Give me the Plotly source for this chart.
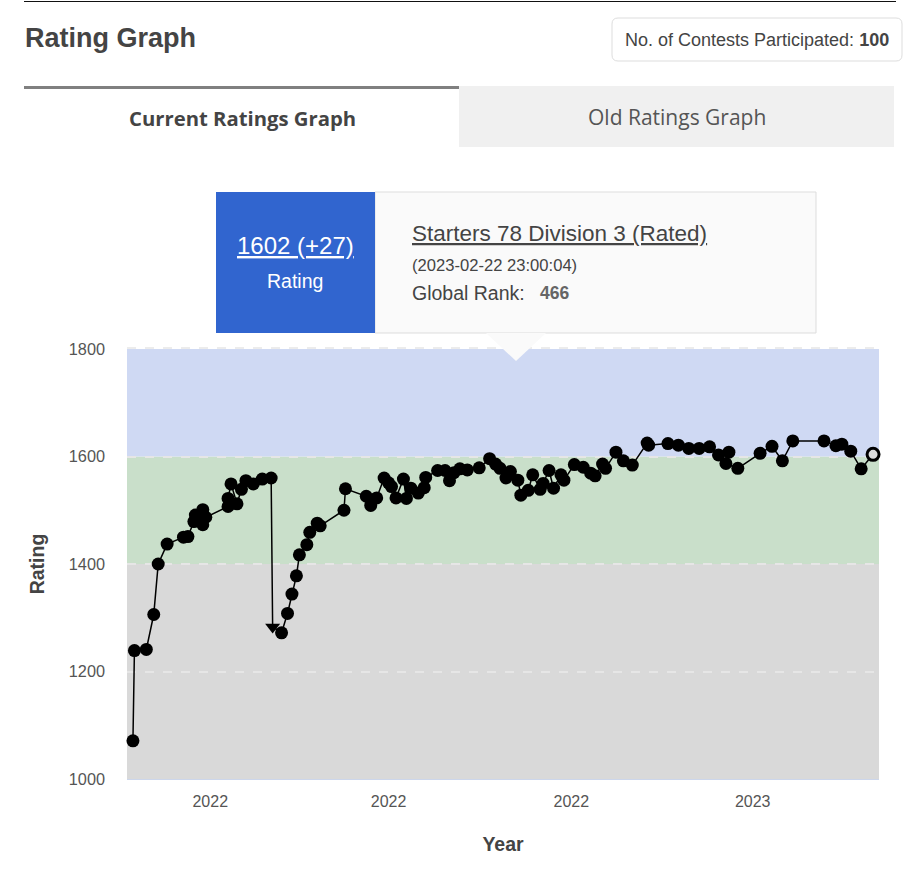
import pandas as pd
import plotly.graph_objects as pgo

W, H = 921, 879

# days since 2022-01-01 for each contest
day_offset = [-52, -51, -43, -38, -35, -29, -18, -15, -11, -10, -9, -7, -5, -5, -3,
              12, 12, 14, 18, 21, 24, 29, 35, 41, 42, 48, 52, 55, 58, 60,
              65, 67, 72, 74, 90, 91, 105, 108, 112, 117, 120, 122, 125, 130, 132,
              135, 140, 144, 145, 153, 158, 161, 164, 168, 173, 181, 188, 192, 195, 199,
              202, 207, 209, 214, 217, 222, 224, 228, 231, 236, 238, 245, 251, 256, 259,
              264, 266, 273, 278, 284, 294, 295, 308, 315, 322, 329, 336, 342, 349, 347,
              355, 370, 378, 385, 392, 413, 421, 425, 431, 438, 446]
rating = [1071, 1239, 1241, 1306, 1400, 1437, 1450, 1451, 1479, 1491, 1486, 1486, 1501, 1473, 1487,
          1507, 1522, 1549, 1512, 1539, 1555, 1549, 1558, 1560, 1283, 1272, 1308, 1344, 1378, 1417,
          1436, 1459, 1476, 1471, 1500, 1540, 1526, 1509, 1523, 1560, 1551, 1544, 1523, 1558, 1522,
          1541, 1532, 1542, 1561, 1574, 1574, 1555, 1570, 1577, 1575, 1579, 1596, 1586, 1578, 1560,
          1572, 1556, 1528, 1537, 1566, 1539, 1550, 1574, 1541, 1566, 1556, 1585, 1580, 1569, 1564,
          1586, 1578, 1608, 1592, 1584, 1625, 1621, 1624, 1621, 1615, 1615, 1618, 1603, 1608, 1587,
          1578, 1606, 1619, 1592, 1629, 1629, 1620, 1623, 1610, 1577, 1604]
band_edges = [1000, 1400, 1600, 1800]
band_colors = ["#d9d9d9", "#c9dfca", "#cfd9f3"]
y_ticks = [1000, 1200, 1400, 1600, 1800]

dates = pd.Timestamp("2022-01-01") + pd.to_timedelta(day_offset, unit="D")

# marker styles: the dropped contest is a triangle, the selected one is hollow
symbols = ["circle"] * len(rating)
symbols[24] = "triangle-down"
fills = ["black"] * len(rating)
fills[-1] = "#dddddd"
sizes = [13] * len(rating)
sizes[-1] = 12
outlines = [0] * len(rating)
outlines[-1] = 3


def px(x):
    return x / W


def py(y):
    return 1 - y / H


def box(x0, y0, x1, y1, fill, line=None):
    return dict(type="rect", xref="paper", yref="paper", layer="above",
                x0=px(x0), x1=px(x1), y0=py(y0), y1=py(y1), fillcolor=fill,
                line=dict(color=line or fill, width=1 if line else 0))


def label(x, y, text, size, color="#444444", family="Liberation Sans", xanchor="left"):
    return dict(xref="paper", yref="paper", x=px(x), y=py(y), text=text, showarrow=False,
                xanchor=xanchor, yanchor="middle", borderpad=0,
                font=dict(size=size, color=color, family=family))


fig = pgo.Figure()
fig.add_trace(pgo.Scatter(x=dates, y=rating, mode="lines+markers",
                          line=dict(color="black", width=1.5),
                          marker=dict(symbol=symbols, color=fills, size=sizes, opacity=1,
                                      line=dict(color="black", width=outlines)),
                          cliponaxis=False, hoverinfo="skip"))

shapes = []
for i in range(len(band_colors)):
    shapes.append(dict(type="rect", xref="x domain", yref="y", layer="below", x0=0, x1=1,
                       y0=band_edges[i], y1=band_edges[i + 1], fillcolor=band_colors[i],
                       line=dict(width=0)))

# page furniture around the chart
shapes.append(dict(type="line", xref="paper", yref="paper", layer="above", x0=px(24), x1=px(896),
                   y0=py(1.5), y1=py(1.5), line=dict(color="#111111", width=1)))
# dashed top gridline, plotly drops the one sitting on the range edge
shapes.append(dict(type="line", xref="paper", yref="paper", layer="above", x0=px(127), x1=px(879),
                   y0=py(348), y1=py(348), line=dict(color="#e6e6e6", width=1.5, dash="dash")))
rx0, ry0, rx1, ry1, r = px(612), py(18), px(902), py(61), 6
rr = r / W
rh = r / H
shapes.append(dict(type="path", xref="paper", yref="paper", layer="above",
                   path=f"M {rx0 + rr} {ry0} L {rx1 - rr} {ry0} Q {rx1} {ry0} {rx1} {ry0 - rh} "
                        f"L {rx1} {ry1 + rh} Q {rx1} {ry1} {rx1 - rr} {ry1} L {rx0 + rr} {ry1} "
                        f"Q {rx0} {ry1} {rx0} {ry1 + rh} L {rx0} {ry0 - rh} Q {rx0} {ry0} {rx0 + rr} {ry0} Z",
                   fillcolor="white", line=dict(color="#dddddd", width=1)))
shapes.append(box(459, 86, 894, 147, "#f0f0f0"))
shapes.append(box(24, 86, 459, 89, "#808080"))
shapes.append(box(375, 192, 816, 333, "#fafafa", "#dddddd"))
shapes.append(box(216, 192, 375, 333, "#3165cf"))
shapes.append(dict(type="path", xref="paper", yref="paper", layer="above",
                   path=f"M {px(486)} {py(333)} L {px(516)} {py(361)} L {px(546)} {py(333)} Z",
                   fillcolor="#fafafa", line=dict(width=0)))

annotations = [
    label(24, 38, "<b>Rating Graph</b>", 27),
    label(624, 40, "No. of Contests Participated: <b>100</b>", 18),
    label(242, 118, "<b>Current Ratings Graph</b>", 20.3, family="Open Sans", xanchor="center"),
    label(677, 117, "Old Ratings Graph", 21, color="#555555", family="Open Sans", xanchor="center"),
    label(295, 246, "<u>1602 (+27)</u>", 24, color="white", xanchor="center"),
    label(295, 281, "Rating", 19.5, color="white", xanchor="center"),
    label(411, 233, "<u>Starters 78 Division 3 (Rated)</u>", 22.5),
    label(411, 265, "(2023-02-22 23:00:04)", 16.6),
    label(411, 293, "Global Rank:", 19.5),
    label(539, 293, "<b>466</b>", 17.5, color="#666666"),
]

fig.update_layout(
    width=W, height=H, margin=dict(l=0, r=0, t=0, b=0), autosize=False,
    paper_bgcolor="white", plot_bgcolor="rgba(0,0,0,0)", showlegend=False, hovermode=False,
    font=dict(family="Liberation Sans", color="#444444"),
    shapes=shapes, annotations=annotations,
    xaxis=dict(domain=[127 / W, 879 / W], type="date", range=["2021-11-06", "2023-03-27"],
               tick0="2022-01-01", dtick="M4", tickformat="%Y", ticks="", showgrid=False,
               zeroline=False, showline=True, linecolor="#ccd6eb", linewidth=1, automargin=False,
               ticklabelstandoff=8, tickfont=dict(size=16, color="#555555"),
               title=dict(text="<b>Year</b>", font=dict(size=19.5, color="#444444"), standoff=28)),
    yaxis=dict(domain=[1 - 779 / H, 1 - 349 / H], range=[1000, 1800], tickvals=y_ticks,
               showgrid=True, gridcolor="#e6e6e6", griddash="dash", gridwidth=1.5, zeroline=False,
               ticks="", ticklen=0, automargin=False, ticklabelstandoff=21,
               tickfont=dict(size=16.3, color="#555555"),
               title=dict(text="<b>Rating</b>", font=dict(size=19.5, color="#444444"), standoff=18)),
)

fig.write_html("out.html", config=dict(displayModeBar=False),
               post_script="document.body.style.margin='0';document.body.style.overflow='hidden';")
